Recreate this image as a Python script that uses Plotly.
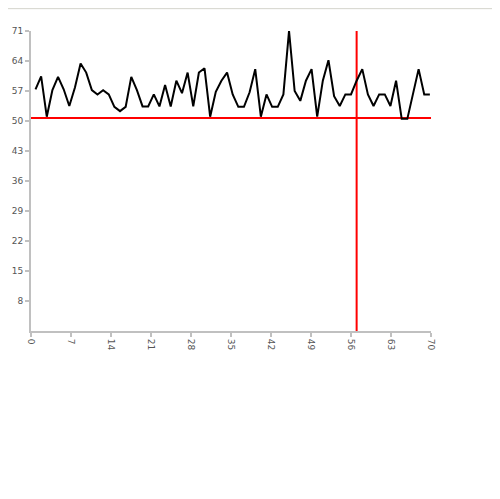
import plotly.graph_objects as go

# data values (one per sample, sample index 0..70)
values = [57.4, 60.4, 51.0, 57.2, 60.3, 57.4, 53.5, 57.8, 63.4, 61.3,
          57.2, 56.2, 57.2, 56.2, 53.3, 52.3, 53.3, 60.3, 57.2, 53.4,
          53.4, 56.2, 53.4, 58.4, 53.4, 59.4, 56.5, 61.3, 53.4, 61.3,
          62.3, 51.0, 56.8, 59.4, 61.3, 56.2, 53.3, 53.3, 56.7, 62.1,
          51.0, 56.2, 53.3, 53.3, 56.2, 71.0, 57.0, 54.7, 59.4, 62.1,
          51.0, 59.4, 64.2, 55.8, 53.5, 56.2, 56.2, 59.4, 62.1, 56.2,
          53.5, 56.2, 56.2, 53.5, 59.4, 50.5, 50.5, 56.2, 62.1, 56.2,
          56.2]
x_ticks = [0, 7, 14, 21, 28, 35, 42, 49, 56, 63, 70]
y_ticks = [8, 15, 22, 29, 36, 43, 50, 57, 64, 71]
threshold = 50.7
marker_index = 57

n = len(values)
idx = list(range(n))
x_lo, x_hi = -0.8, n - 0.8
# map the 0..70 labelled scale onto the sample-index axis
tick_pos = [x_lo + t * (x_hi - x_lo) / 70 for t in x_ticks]

fig = go.Figure()
fig.add_trace(go.Scatter(x=idx, y=values, mode="lines",
                         line=dict(color="black", width=2), hoverinfo="skip"))

fig.add_shape(type="line", xref="paper", x0=0, x1=1, yref="y", y0=threshold, y1=threshold,
              line=dict(color="#ff0000", width=2), layer="below")
fig.add_shape(type="line", xref="x", x0=marker_index, x1=marker_index, yref="paper", y0=0, y1=1,
              line=dict(color="#ff0000", width=2), layer="below")
# top border
fig.add_shape(type="line", xref="paper", yref="paper", x0=-0.1, x1=1.2, y0=1.0745, y1=1.0745,
              line=dict(color="#d4d4cc", width=1))

axis_font = dict(family="DejaVu Sans", size=9, color="#555555")
fig.update_xaxes(range=[x_lo, x_hi], tickvals=tick_pos, ticktext=[str(t) for t in x_ticks],
                 tickangle=90, showgrid=False, zeroline=False, showline=True, automargin=False,
                 linecolor="#c0c0c0", linewidth=2, ticks="outside", ticklen=4,
                 tickcolor="#c0c0c0", tickwidth=2, tickfont=axis_font)
fig.update_yaxes(range=[1, 71], tickvals=y_ticks, ticktext=[str(t) for t in y_ticks],
                 showgrid=False, zeroline=False, showline=True, automargin=False,
                 linecolor="#c0c0c0", linewidth=2, ticks="outside", ticklen=4,
                 tickcolor="#c0c0c0", tickwidth=2, tickfont=axis_font)

fig.update_layout(width=492, height=491, margin=dict(l=23, r=69, t=23, b=168),
                  plot_bgcolor="white", paper_bgcolor="white", showlegend=False)
fig.write_html("out.html")
